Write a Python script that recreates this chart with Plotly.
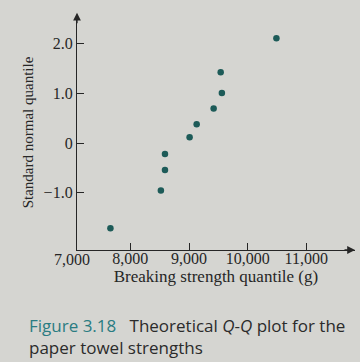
import plotly.graph_objects as go

# Data
strength = [7660, 8520, 8590, 8590, 9010, 9130, 9420, 9560, 9540, 10490]
normal_q = [-1.71, -0.95, -0.54, -0.22, 0.12, 0.38, 0.70, 1.01, 1.43, 2.11]
x_ticks = [7000, 8000, 9000, 10000, 11000]
x_tick_text = ["7,000", "8,000", "9,000", "10,000", "11,000"]
y_ticks = [-1, 0, 1, 2]
y_tick_text = ["\u22121.0", "0", "1.0", "2.0"]

BG = "#d5d5d1"
INK = "#262626"
SERIF = "Liberation Serif, Times New Roman, serif"
X_RANGE = [7090, 11830]

fig = go.Figure()
fig.add_trace(go.Scatter(
    x=strength, y=normal_q, mode="markers",
    marker=dict(color="#1d5b58", size=6.5),
    showlegend=False, cliponaxis=False,
))

fig.update_layout(
    width=360, height=362,
    margin=dict(l=77, r=5, t=15, b=112),
    paper_bgcolor=BG, plot_bgcolor=BG,
    font=dict(family=SERIF, color=INK, size=15),
)
fig.update_xaxes(
    range=X_RANGE, tickvals=x_ticks[1:], ticktext=x_tick_text[1:],
    ticks="inside", ticklen=7, tickcolor=INK, showline=True, linecolor=INK,
    linewidth=1.3, showgrid=False, zeroline=False, ticklabelstandoff=-6,
    tickfont=dict(size=16, family=SERIF),
    title=dict(text="Breaking strength quantile (g)", font=dict(size=17, family=SERIF), standoff=0),
)
fig.update_yaxes(
    range=[-2.15, 2.58], tickvals=y_ticks, ticktext=y_tick_text,
    ticks="inside", ticklen=7, tickcolor=INK, showline=True, linecolor=INK,
    linewidth=1.3, showgrid=False, zeroline=False,
    tickfont=dict(size=16, family=SERIF),
    title=dict(text="Standard normal quantile", font=dict(size=15, family=SERIF), standoff=6),
)

# 7,000 label at the corner (placed through the x scale)
x0_frac = (x_ticks[0] - X_RANGE[0]) / (X_RANGE[1] - X_RANGE[0])
fig.add_annotation(x=x0_frac, y=0, xref="paper", yref="paper", xanchor="center",
                   yanchor="top", yshift=1, text=x_tick_text[0], showarrow=False,
                   font=dict(size=16, family=SERIF, color=INK))
# axis arrows
fig.add_annotation(x=0, y=1.01, xref="paper", yref="paper", ax=0, ay=12,
                   showarrow=True, arrowhead=2, arrowsize=1.2, arrowwidth=1.3,
                   arrowcolor=INK, text="")
fig.add_annotation(x=1.0, y=0, xref="paper", yref="paper", ax=-12, ay=0,
                   showarrow=True, arrowhead=2, arrowsize=1.2, arrowwidth=1.3,
                   arrowcolor=INK, text="")

# caption
fig.add_annotation(
    xref="paper", yref="paper", x=-0.181, y=-0.262, xanchor="left", yanchor="top",
    align="left", showarrow=False,
    text=("<span style='color:#2a7c82'>Figure 3.18</span>\u00a0\u00a0\u00a0Theoretical <i>Q</i>-<i>Q</i> plot for the"
          "<br>paper towel strengths"),
    font=dict(family="Open Sans, Noto Sans, sans-serif", size=17, color="#2b2b2b"),
)

fig.write_html("out.html", config={"displayModeBar": False},
               post_script="document.body.style.margin='0';")
